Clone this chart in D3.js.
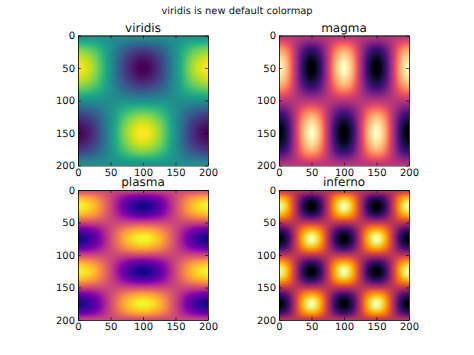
<!DOCTYPE html>
<html>
<head>
<meta charset="utf-8">
<script src="https://d3js.org/d3.v7.min.js"></script>
<style>
    html, body { margin: 0; padding: 0; background: #fff; }
    text { font-family: "DejaVu Sans", sans-serif; fill: #111; text-rendering: geometricPrecision; }
</style>
</head>
<body>
<svg id="chart"></svg>
<script>
const figTitle = "viridis is new default colormap";
const panelNames = ["viridis", "magma", "plasma", "inferno"];
const tickValues = [0, 50, 100, 150, 200];

// values, 0 = bottom of the colormap, 1 = top
// rows run down the y axis, columns along the x axis, evenly over 0-200
const viridisGrid = [
    [.5, .5, .5, .5, .5, .5, .5, .5, .5],
    [.85, .75, .5, .25, .15, .25, .5, .75, .85],
    [1, .85, .5, .15, 0, .15, .5, .85, 1],
    [.85, .75, .5, .25, .15, .25, .5, .75, .85],
    [.5, .5, .5, .5, .5, .5, .5, .5, .5],
    [.15, .25, .5, .75, .85, .75, .5, .25, .15],
    [0, .15, .5, .85, 1, .85, .5, .15, 0],
    [.15, .25, .5, .75, .85, .75, .5, .25, .15],
    [.5, .5, .5, .5, .5, .5, .5, .5, .5]
];

const magmaGrid = [
    [.5, .5, .5, .5, .5, .5, .5, .5, .5, .5, .5, .5, .5, .5, .5, .5, .5],
    [.85, .75, .5, .25, .15, .25, .5, .75, .85, .75, .5, .25, .15, .25, .5, .75, .85],
    [1, .85, .5, .15, 0, .15, .5, .85, 1, .85, .5, .15, 0, .15, .5, .85, 1],
    [.85, .75, .5, .25, .15, .25, .5, .75, .85, .75, .5, .25, .15, .25, .5, .75, .85],
    [.5, .5, .5, .5, .5, .5, .5, .5, .5, .5, .5, .5, .5, .5, .5, .5, .5],
    [.15, .25, .5, .75, .85, .75, .5, .25, .15, .25, .5, .75, .85, .75, .5, .25, .15],
    [0, .15, .5, .85, 1, .85, .5, .15, 0, .15, .5, .85, 1, .85, .5, .15, 0],
    [.15, .25, .5, .75, .85, .75, .5, .25, .15, .25, .5, .75, .85, .75, .5, .25, .15],
    [.5, .5, .5, .5, .5, .5, .5, .5, .5, .5, .5, .5, .5, .5, .5, .5, .5]
];

const plasmaGrid = [
    [.5, .5, .5, .5, .5, .5, .5, .5, .5],
    [.85, .75, .5, .25, .15, .25, .5, .75, .85],
    [1, .85, .5, .15, 0, .15, .5, .85, 1],
    [.85, .75, .5, .25, .15, .25, .5, .75, .85],
    [.5, .5, .5, .5, .5, .5, .5, .5, .5],
    [.15, .25, .5, .75, .85, .75, .5, .25, .15],
    [0, .15, .5, .85, 1, .85, .5, .15, 0],
    [.15, .25, .5, .75, .85, .75, .5, .25, .15],
    [.5, .5, .5, .5, .5, .5, .5, .5, .5],
    [.85, .75, .5, .25, .15, .25, .5, .75, .85],
    [1, .85, .5, .15, 0, .15, .5, .85, 1],
    [.85, .75, .5, .25, .15, .25, .5, .75, .85],
    [.5, .5, .5, .5, .5, .5, .5, .5, .5],
    [.15, .25, .5, .75, .85, .75, .5, .25, .15],
    [0, .15, .5, .85, 1, .85, .5, .15, 0],
    [.15, .25, .5, .75, .85, .75, .5, .25, .15],
    [.5, .5, .5, .5, .5, .5, .5, .5, .5]
];

const infernoGrid = [
    [.5, .5, .5, .5, .5, .5, .5, .5, .5, .5, .5, .5, .5, .5, .5, .5, .5],
    [.85, .75, .5, .25, .15, .25, .5, .75, .85, .75, .5, .25, .15, .25, .5, .75, .85],
    [1, .85, .5, .15, 0, .15, .5, .85, 1, .85, .5, .15, 0, .15, .5, .85, 1],
    [.85, .75, .5, .25, .15, .25, .5, .75, .85, .75, .5, .25, .15, .25, .5, .75, .85],
    [.5, .5, .5, .5, .5, .5, .5, .5, .5, .5, .5, .5, .5, .5, .5, .5, .5],
    [.15, .25, .5, .75, .85, .75, .5, .25, .15, .25, .5, .75, .85, .75, .5, .25, .15],
    [0, .15, .5, .85, 1, .85, .5, .15, 0, .15, .5, .85, 1, .85, .5, .15, 0],
    [.15, .25, .5, .75, .85, .75, .5, .25, .15, .25, .5, .75, .85, .75, .5, .25, .15],
    [.5, .5, .5, .5, .5, .5, .5, .5, .5, .5, .5, .5, .5, .5, .5, .5, .5],
    [.85, .75, .5, .25, .15, .25, .5, .75, .85, .75, .5, .25, .15, .25, .5, .75, .85],
    [1, .85, .5, .15, 0, .15, .5, .85, 1, .85, .5, .15, 0, .15, .5, .85, 1],
    [.85, .75, .5, .25, .15, .25, .5, .75, .85, .75, .5, .25, .15, .25, .5, .75, .85],
    [.5, .5, .5, .5, .5, .5, .5, .5, .5, .5, .5, .5, .5, .5, .5, .5, .5],
    [.15, .25, .5, .75, .85, .75, .5, .25, .15, .25, .5, .75, .85, .75, .5, .25, .15],
    [0, .15, .5, .85, 1, .85, .5, .15, 0, .15, .5, .85, 1, .85, .5, .15, 0],
    [.15, .25, .5, .75, .85, .75, .5, .25, .15, .25, .5, .75, .85, .75, .5, .25, .15],
    [.5, .5, .5, .5, .5, .5, .5, .5, .5, .5, .5, .5, .5, .5, .5, .5, .5]
];

const panelGrids = [viridisGrid, magmaGrid, plasmaGrid, infernoGrid];
const panelColors = [d3.interpolateViridis, d3.interpolateMagma, d3.interpolatePlasma, d3.interpolateInferno];

const width = 474, height = 355;
const panelSize = 130;
const panelX = [78, 279];
const panelY = [35.5, 190];

const svg = d3.select("#chart")
    .attr("width", width)
    .attr("height", height)
    .style("display", "block");

svg.append("text")
    .attr("x", 237)
    .attr("y", 14)
    .attr("text-anchor", "middle")
    .style("font-size", "9.9px")
    .text(figTitle);

// same job as imshow's smoothing: cubic blend between the read values
function cubic(a, b, c, d, t) {
    return b + 0.5 * t * (c - a + t * (2 * a - 5 * b + 4 * c - d + t * (3 * (b - c) + d - a)));
}

function sampleGrid(grid, u, v) {
    const rows = grid.length, cols = grid[0].length;
    const fx = u * (cols - 1), fy = v * (rows - 1);
    const ix = Math.min(Math.floor(fx), cols - 2), iy = Math.min(Math.floor(fy), rows - 2);
    const at = (r, c) => grid[Math.max(0, Math.min(rows - 1, r))][Math.max(0, Math.min(cols - 1, c))];
    const line = r => cubic(at(r, ix - 1), at(r, ix), at(r, ix + 1), at(r, ix + 2), fx - ix);
    return cubic(line(iy - 1), line(iy), line(iy + 1), line(iy + 2), fy - iy);
}

function renderImage(grid, colorFn, xScale, yScale) {
    const canvas = document.createElement("canvas");
    canvas.width = panelSize;
    canvas.height = panelSize;
    const ctx = canvas.getContext("2d");
    const color = d3.scaleSequential(colorFn).domain([0, 1]).clamp(true);
    for (let py = 0; py < panelSize; py++) {
        for (let px = 0; px < panelSize; px++) {
            const u = xScale.invert(px + 0.5) / 200;
            const v = yScale.invert(py + 0.5) / 200;
            ctx.fillStyle = color(sampleGrid(grid, u, v));
            ctx.fillRect(px, py, 1, 1);
        }
    }
    return canvas.toDataURL();
}

panelNames.forEach((name, i) => {
    const g = svg.append("g")
        .attr("transform", `translate(${panelX[i % 2]},${panelY[Math.floor(i / 2)]})`);

    const xScale = d3.scaleLinear().domain([0, 200]).range([0, panelSize]);
    const yScale = d3.scaleLinear().domain([0, 200]).range([0, panelSize]);

    g.append("image")
        .attr("width", panelSize)
        .attr("height", panelSize)
        .attr("href", renderImage(panelGrids[i], panelColors[i], xScale, yScale));

    const styleAxis = a => a.call(s => s.select(".domain").attr("stroke", "#000").attr("stroke-width", 0.8))
        .call(s => s.selectAll("line").attr("stroke", "#000").attr("stroke-width", 0.6))
        .call(s => s.selectAll("text").style("font-size", "10px").attr("fill", "#111"));

    // ticks point inward on all four sides, old matplotlib style
    g.append("g").attr("transform", `translate(0,${panelSize})`)
        .call(d3.axisBottom(xScale).tickValues(tickValues).tickSizeInner(-3).tickSizeOuter(0).tickPadding(3))
        .call(styleAxis);
    g.append("g")
        .call(d3.axisLeft(yScale).tickValues(tickValues).tickSizeInner(-3).tickSizeOuter(0).tickPadding(3))
        .call(styleAxis);
    g.append("g")
        .call(d3.axisTop(xScale).tickValues(tickValues).tickSizeInner(-3).tickSizeOuter(0).tickFormat(""))
        .call(styleAxis);
    g.append("g").attr("transform", `translate(${panelSize},0)`)
        .call(d3.axisRight(yScale).tickValues(tickValues).tickSizeInner(-3).tickSizeOuter(0).tickFormat(""))
        .call(styleAxis);

    g.append("text")
        .attr("x", panelSize / 2)
        .attr("y", -4)
        .attr("text-anchor", "middle")
        .style("font-size", "12px")
        .text(name);
});
</script>
</body>
</html>
